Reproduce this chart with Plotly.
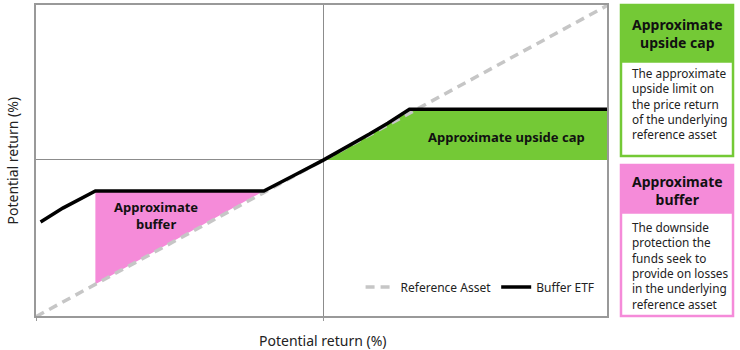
import plotly.graph_objects as go

# ---- data ----
ref_x = [-50.4, 49.6]
ref_y = [-50.4, 49.6]

etf_x = [-49.6, -45.7, -40.0, -10.5, -5.0, 0.0, 8.0, 11.2, 15.0, 49.6]
etf_y = [-20.0, -15.5, -10.0, -10.0, -4.8, 0.0, 8.3, 11.8, 16.3, 16.3]

buffer_x = [-40.0, -10.5, -40.0]
buffer_y = [-10.0, -10.0, -40.0]

series_names = ["Reference Asset", "Buffer ETF"]
area_labels = ["Approximate upside cap", "Approximate<br>buffer"]
box_titles = ["Approximate<br>upside cap", "Approximate<br>buffer"]
box_texts = [
    "The approximate<br>upside limit on<br>the price return<br>of the underlying<br>reference asset",
    "The downside<br>protection the<br>funds seek to<br>provide on losses<br>in the underlying<br>reference asset",
]
axis_title = "Potential return (%)"

GREEN = "#74c936"
PINK = "#f58bd9"
FONT = "Noto Sans"

# cap area: ETF line for x >= 0 down to zero
cap_x = [x for x in etf_x if x >= 0]
cap_y = [y for x, y in zip(etf_x, etf_y) if x >= 0]
cap_poly_x = cap_x + [cap_x[-1], cap_x[0]]
cap_poly_y = cap_y + [0, 0]

fig = go.Figure()
fig.add_trace(go.Scatter(x=buffer_x, y=buffer_y, fill="toself", fillcolor=PINK,
                         mode="none", showlegend=False, hoverinfo="skip"))
fig.add_trace(go.Scatter(x=cap_poly_x, y=cap_poly_y, fill="toself", fillcolor=GREEN,
                         mode="none", showlegend=False, hoverinfo="skip"))
fig.add_trace(go.Scatter(x=ref_x, y=ref_y, mode="lines", name=series_names[0],
                         line=dict(color="#c6c6c6", width=3.5, dash="9px,6px")))
fig.add_trace(go.Scatter(x=etf_x, y=etf_y, mode="lines", name=series_names[1],
                         line=dict(color="#000000", width=3.5)))

axis_common = dict(showgrid=False, zeroline=True, zerolinecolor="#8c8c8c", zerolinewidth=1,
                   showline=True, linecolor="#999999", linewidth=1.5, mirror=True,
                   showticklabels=False, fixedrange=True)
fig.update_xaxes(range=[-50.4, 49.6], ticks="outside", ticklen=3, tickcolor="#999999",
                 tickvals=[-50.4, 0], **axis_common)
fig.update_yaxes(range=[-50.2, 49.8], ticks="", **axis_common)

ann = []
ann.append(dict(x=32.0, y=7.3, xref="x", yref="y", text="<b>" + area_labels[0] + "</b>",
                xanchor="center", yanchor="middle",
                showarrow=False, font=dict(size=13, color="#111111", family=FONT)))
ann.append(dict(x=-29.4, y=-17.9, xref="x", yref="y", text="<b>" + area_labels[1] + "</b>",
                xanchor="center", yanchor="middle",
                showarrow=False, font=dict(size=13, color="#111111", family=FONT)))
ann.append(dict(x=0.503, y=-0.08, xref="paper", yref="paper", text=axis_title,
                xanchor="center", yanchor="middle",
                showarrow=False, font=dict(size=14, color="#222222", family=FONT)))
ann.append(dict(x=-0.0403, y=0.50, xref="paper", yref="paper", text=axis_title, textangle=-90,
                xanchor="center", yanchor="middle",
                showarrow=False, font=dict(size=14, color="#222222", family=FONT)))

shapes = []
# box geometry in paper units
bx0, bx1 = 1.0245, 1.2207
boxes = [
    dict(y0=0.5144, y1=1.0, yh=0.8147, color=GREEN, ty=0.907, by=0.684),
    dict(y0=0.0, y1=0.4856, yh=0.329, color=PINK, ty=0.404, by=0.163),
]
for b, title, body in zip(boxes, box_titles, box_texts):
    shapes.append(dict(type="rect", xref="paper", yref="paper", x0=bx0, x1=bx1,
                       y0=b["y0"], y1=b["y1"], line=dict(color=b["color"], width=2.5),
                       fillcolor="white", layer="above"))
    shapes.append(dict(type="rect", xref="paper", yref="paper", x0=bx0, x1=bx1,
                       y0=b["yh"], y1=b["y1"], line=dict(color=b["color"], width=0),
                       fillcolor=b["color"], layer="above"))
    ann.append(dict(x=(bx0 + bx1) / 2, y=b["ty"], xref="paper", yref="paper",
                    xanchor="center", yanchor="middle",
                    text="<b>" + title + "</b>", showarrow=False,
                    font=dict(size=14, color="#111111", family=FONT)))
    ann.append(dict(x=1.0403, y=b["by"], xref="paper", yref="paper", text=body,
                    showarrow=False, xanchor="left", yanchor="middle", align="left",
                    font=dict(size=11.8, color="#222222", family=FONT)))

fig.update_layout(
    width=740, height=350,
    margin=dict(l=36, r=133, t=3, b=34),
    paper_bgcolor="white", plot_bgcolor="white",
    font=dict(family=FONT, color="#222222"),
    showlegend=True,
    legend=dict(orientation="h", x=0.987, xanchor="right", y=0.093, yanchor="middle",
                bgcolor="rgba(0,0,0,0)", font=dict(size=12, color="#222222", family=FONT),
                itemwidth=30, tracegroupgap=0),
    annotations=ann, shapes=shapes,
)

fig.write_html("out.html")
